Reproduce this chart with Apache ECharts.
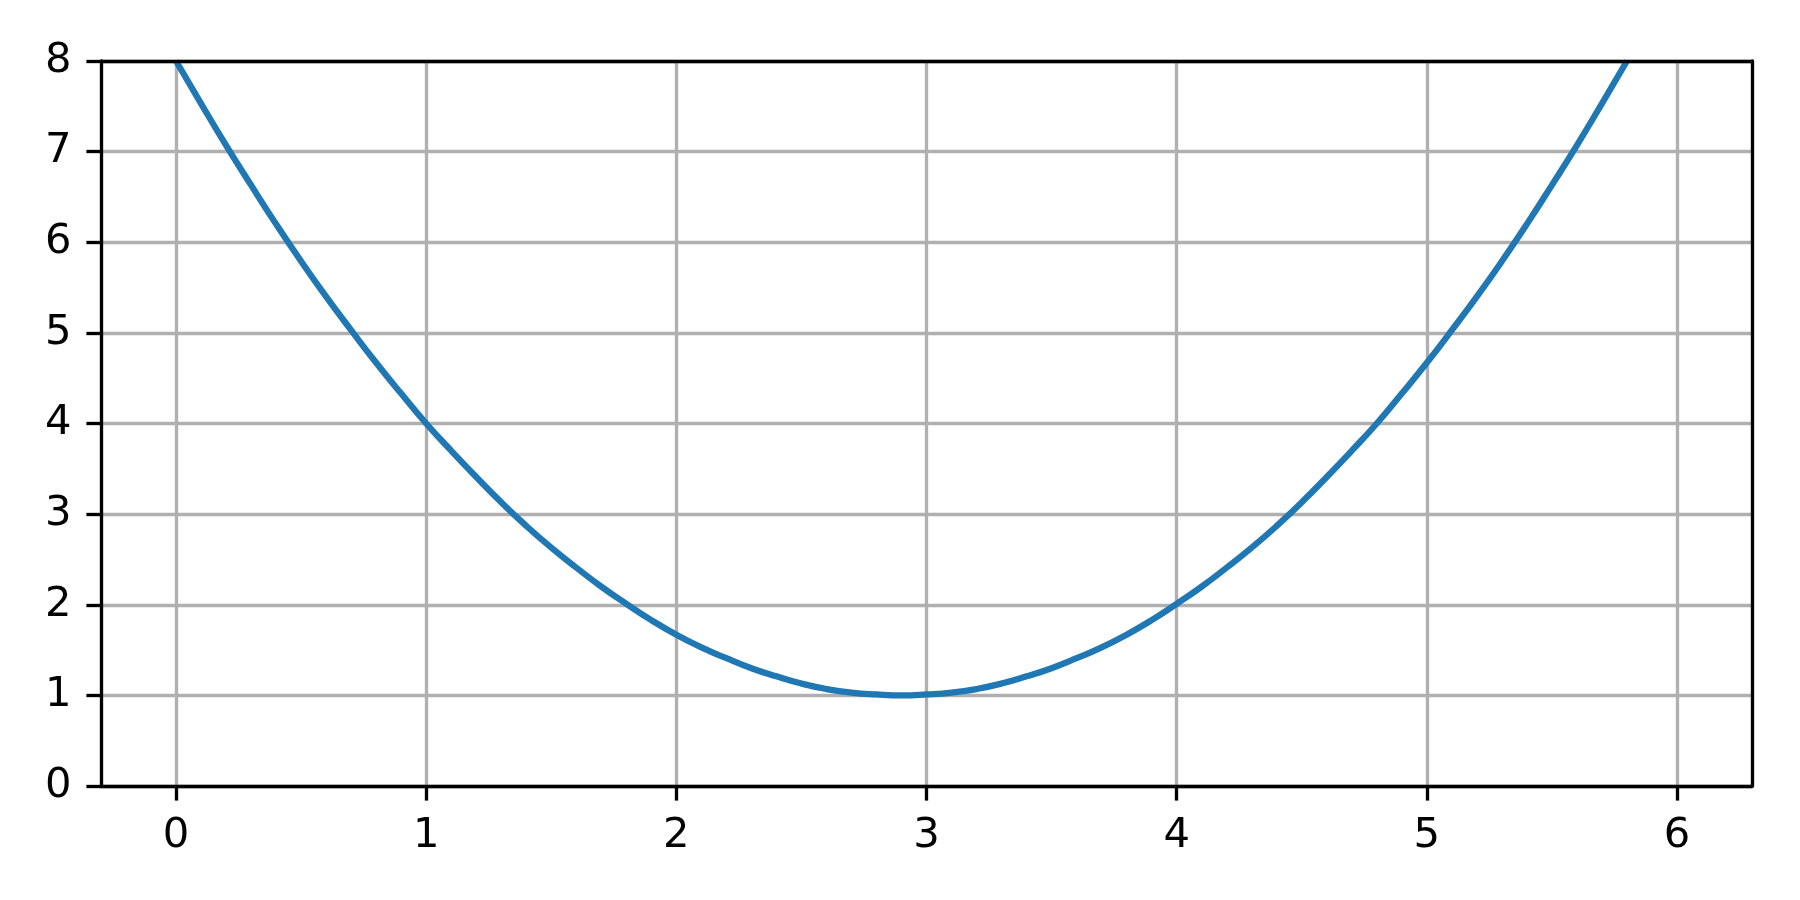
<!DOCTYPE html>
<html>
<head>
<meta charset="utf-8">
<script src="https://cdn.jsdelivr.net/npm/echarts@6/dist/echarts.min.js"></script>
<style>
html,body{margin:0;padding:0;background:#fff;}
#chart{width:1800px;height:900px;}
</style>
</head>
<body>
<div id="chart"></div>
<script>
// Values
const xValues = [0.0,0.1,0.2,0.3,0.4,0.5,0.6,0.7,0.8,0.9,1.0,1.1,1.2,1.3,1.4,1.5,1.6,1.7,1.8,1.9,2.0,2.1,2.2,2.3,2.4,2.5,2.6,2.7,2.8,2.9,3.0,3.1,3.2,3.3,3.4,3.5,3.6,3.7,3.8,3.9,4.0,4.1,4.2,4.3,4.4,4.5,4.6,4.7,4.8,4.9,5.0,5.1,5.2,5.3,5.4,5.5,5.6,5.7,5.8];
const yValues = [8.00,7.53,7.07,6.63,6.20,5.79,5.40,5.03,4.67,4.33,4.00,3.70,3.41,3.13,2.87,2.63,2.41,2.20,2.01,1.83,1.67,1.53,1.41,1.30,1.21,1.13,1.07,1.03,1.01,1.00,1.01,1.03,1.07,1.13,1.21,1.30,1.41,1.53,1.67,1.83,2.01,2.20,2.41,2.63,2.87,3.13,3.41,3.70,4.00,4.33,4.67,5.03,5.40,5.79,6.20,6.63,7.07,7.53,8.00];
const xTicks = [0,1,2,3,4,5,6];
const yTicks = [0,1,2,3,4,5,6,7,8];

const FONT = 'DejaVu Sans';
const FS = 41.7;
const LW = 3.33;

const chart = echarts.init(document.getElementById('chart'), null, {renderer:'canvas'});
const seriesData = xValues.map((x,i)=>[x,yValues[i]]);

chart.setOption({
  animation:false,
  backgroundColor:'#fff',
  grid:{left:101,right:48,top:61,bottom:114,containLabel:false},
  xAxis:[{
    type:'value', min:-0.3, max:6.3, position:'bottom', z:4,
    axisLine:{show:true,onZero:false,lineStyle:{color:'#000',width:LW}},
    axisTick:{show:true,inside:false,length:14.6,customValues:xTicks,lineStyle:{color:'#000',width:LW}},
    axisLabel:{show:true,customValues:xTicks,margin:29.5,color:'#000',fontFamily:FONT,fontSize:FS,formatter:v=>String(v)},
    splitLine:{show:true,lineStyle:{color:'#b0b0b0',width:LW}}
  },{
    type:'value', min:-0.3, max:6.3, position:'top', z:6,
    axisLine:{show:true,onZero:false,lineStyle:{color:'#000',width:LW}},
    axisTick:{show:false}, axisLabel:{show:false}, splitLine:{show:false}
  }],
  yAxis:[{
    type:'value', min:0, max:8, interval:1, position:'left', z:3,
    axisLine:{show:true,onZero:false,lineStyle:{color:'#000',width:LW}},
    axisTick:{show:true,inside:false,length:14.6,customValues:yTicks,lineStyle:{color:'#000',width:LW}},
    axisLabel:{show:true,customValues:yTicks,margin:29.5,color:'#000',fontFamily:FONT,fontSize:FS,formatter:v=>String(v)},
    splitLine:{show:true,lineStyle:{color:'#b0b0b0',width:LW}}
  },{
    type:'value', min:0, max:8, position:'right', z:6,
    axisLine:{show:true,onZero:false,lineStyle:{color:'#000',width:LW}},
    axisTick:{show:false}, axisLabel:{show:false}, splitLine:{show:false}
  }],
  series:[{
    type:'line', xAxisIndex:0, yAxisIndex:0, data:seriesData,
    showSymbol:false, symbol:'none', smooth:0.5, clip:true, z:5,
    lineStyle:{color:'#1f77b4',width:6.25,cap:'butt',join:'round'}
  }]
});
</script>
</body>
</html>
